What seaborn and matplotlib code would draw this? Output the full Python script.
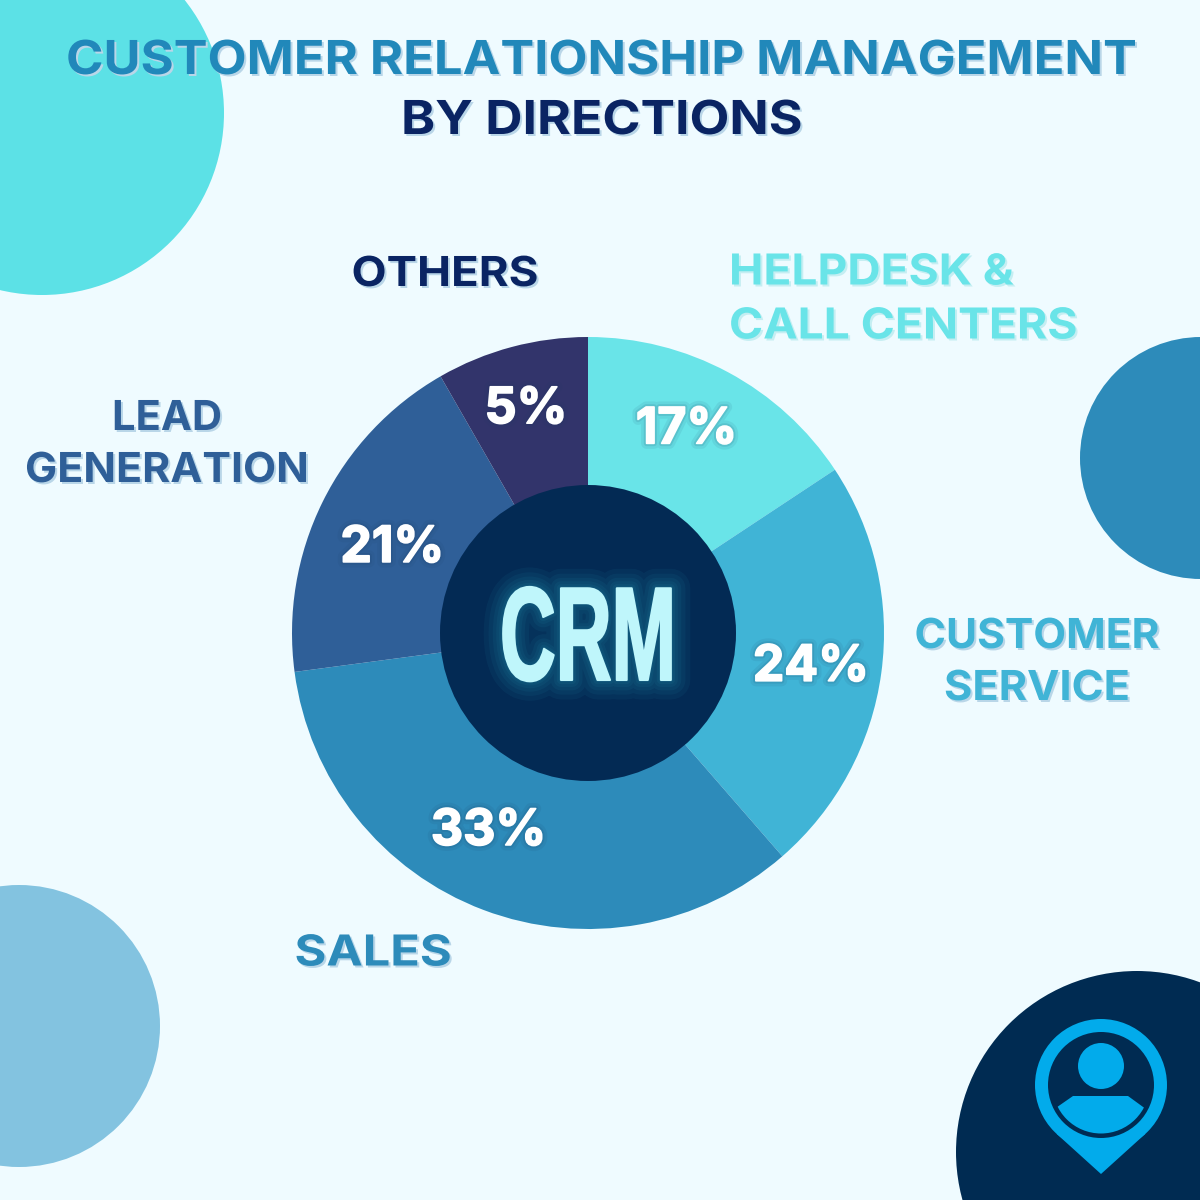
import numpy as np
import matplotlib
matplotlib.use("Agg")
import matplotlib.pyplot as plt
import matplotlib.patheffects as pe
from matplotlib.patches import Circle, Polygon
from matplotlib.transforms import Affine2D
import seaborn as sns

# values
directions = ["Helpdesk & Call Centers", "Customer Service", "Sales", "Lead Generation", "Others"]
slice_shares = [15.7, 22.9, 34.3, 18.8, 8.3]  # drawn sizes, they differ a bit from the printed ones
pct_labels = ["17%", "24%", "33%", "21%", "5%"]
slice_colors = ["#69E4E8", "#40B4D6", "#2D8BBA", "#2F5F98", "#32346B"]

BG = "#EFFBFF"
NAVY = "#032A54"
ICON = "#02ABEB"

sns.set_theme(style="white", rc={"figure.facecolor": BG, "savefig.facecolor": BG})
plt.rcParams["font.family"] = ["Inter", "DejaVu Sans"]


def Y(py):
    # picture rows run downwards, data y runs upwards
    return 1200 - py


class WideText(pe.AbstractPathEffect):
    # draws the glyphs stretched around cx, the font has no letter spacing option
    def __init__(self, sx, cx, offset=(0, 0), color=None, alpha=None, lw=0):
        super().__init__()
        self.sx, self.cx, self.off = sx, cx, offset
        self.color, self.alpha, self.lw = color, alpha, lw

    def draw_path(self, renderer, gc, tpath, affine, rgbFace=None):
        gc0 = renderer.new_gc()
        gc0.copy_properties(gc)
        tr = affine + Affine2D().translate(-self.cx, 0).scale(self.sx, 1).translate(self.cx + self.off[0], self.off[1])
        face = rgbFace
        if self.color is not None:
            face = matplotlib.colors.to_rgb(self.color)
        gc0.set_linewidth(self.lw)
        if self.lw > 0:
            gc0.set_foreground(self.color)
            gc0.set_joinstyle("round")
        if self.alpha is not None:
            gc0.set_alpha(self.alpha)
        renderer.draw_path(gc0, tpath, tr, face)
        gc0.restore()


fig = plt.figure(figsize=(12, 12), dpi=100)
ax = fig.add_axes([0, 0, 1, 1])

# background circles
for x, y, r, c in [(42, 113, 182, "#5CE1E6"), (1201, 458, 121, "#2D8BBA"),
                   (19, 1026, 141, "#83C3E0"), (1137, 1152, 181, "#002B52")]:
    ax.add_patch(Circle((x, Y(y)), r, color=c, lw=0, zorder=1))

wedges, texts = ax.pie(
    slice_shares,
    colors=sns.color_palette(slice_colors),
    labels=pct_labels,
    labeldistance=0.76,
    center=(588, Y(633)),
    radius=296,
    startangle=90,
    counterclock=False,
    frame=True,
    wedgeprops={"linewidth": 0, "zorder": 2},
)
ax.add_patch(Circle((588, Y(633)), 148, color=NAVY, lw=0, zorder=3))
ax.set_xlim(0, 1200)
ax.set_ylim(0, 1200)
ax.set_aspect("equal")
ax.axis("off")

# pin icon
ix, iy = 1101, 1085
tip = np.array([ix, Y(1174)])
ang = np.arccos(66 / 89)
tangents = [(ix + 66 * np.sin(a), Y(iy) - 66 * np.cos(a)) for a in (ang, -ang)]
ax.add_patch(Circle((ix, Y(iy)), 66, color=ICON, lw=0, zorder=4))
ax.add_patch(Polygon([tangents[0], tuple(tip), tangents[1]], color=ICON, lw=0, zorder=4))
ax.add_patch(Circle((ix, Y(iy)), 53, color="#002B52", lw=0, zorder=5))
ax.add_patch(Circle((ix, Y(1066)), 23, color=ICON, lw=0, zorder=6))
body = Circle((ix, Y(iy)), 48.5, color=ICON, lw=0, zorder=6)
ax.add_patch(body)
body_clip = Polygon([(1073, Y(1096)), (1128, Y(1096)), (1150, Y(1112)), (1150, Y(1140)),
                     (1050, Y(1140)), (1050, Y(1112))], transform=ax.transData)
body.set_clip_path(body_clip)

fig.canvas.draw()
renderer = fig.canvas.get_renderer()


def fit_text(s, cx, cy, width, cap, color, shadow="#B9D6E8", font="Inter", weight="bold", zorder=8):
    # cx, cy is the middle of the capitals in picture pixels, width is the width to fill
    px = cap / 0.727
    t = ax.text(cx, Y(cy) - cap / 2, s, ha="center", va="baseline", color=color,
                fontsize=px * 0.72, family=[font, "DejaVu Sans"], weight=weight, zorder=zorder)
    box = t.get_window_extent(renderer)
    sx = width / box.width
    mid = (box.x0 + box.x1) / 2
    t.set_path_effects([WideText(sx, mid, offset=(2, -2), color=shadow),
                        WideText(sx, mid)])
    return t


# titles and outside labels
fit_text("CUSTOMER RELATIONSHIP MANAGEMENT", 602, 57, 1072, 34, "#2188BA")
fit_text("BY DIRECTIONS", 602, 117, 402, 34, "#0A2463")
fit_text("OTHERS", 445, 271, 187, 30, "#0A2463")
fit_text("HELPDESK &", 871, 269, 284, 31, "#69E4E8", shadow="#C5EEF2")
fit_text("CALL CENTERS", 903, 323, 348, 31, "#69E4E8", shadow="#C5EEF2")
fit_text("LEAD", 167, 415, 110, 30, "#2F5F98")
fit_text("GENERATION", 167, 467, 284, 30, "#2F5F98")
fit_text("CUSTOMER", 1037, 633, 245, 30, "#40B4D6")
fit_text("SERVICE", 1037, 685, 186, 30, "#40B4D6")
fit_text("SALES", 373, 950, 157, 31, "#2D8BBA")

# percentages sit on the pie's own labels, nudged to the picture
pct_nudge = [(-8, 10), (0, 1), (-20, 17), (6, -10), (-4, 11)]
for t, (dx, dy) in zip(texts, pct_nudge):
    x, y = t.get_position()
    t.set_position((x + dx, y + dy))
    t.set(ha="center", va="center_baseline", color="white", weight="bold", fontsize=36, zorder=8)
    t.set_path_effects([pe.withStroke(linewidth=8, foreground="#1A3A60", alpha=0.08),
                        pe.withStroke(linewidth=4, foreground="#1A3A60", alpha=0.12),
                        pe.withStroke(linewidth=1.2, foreground="white")])

# glowing centre text
crm = ax.text(588, Y(680), "CRM", ha="center", va="baseline", color="#BFF6FB",
              fontsize=96, weight="bold", family=["Liberation Sans Narrow", "Liberation Sans"], zorder=9)
box = crm.get_window_extent(renderer)
sx = 176 / box.width
mid = (box.x0 + box.x1) / 2
crm.set_path_effects([WideText(sx, mid, color="#35C3DC", alpha=0.06, lw=w) for w in (28, 21, 15, 10, 6, 3)]
                     + [WideText(sx, mid, color="#BFF6FB", lw=1.5)])

fig.savefig("out.png", dpi=100)
